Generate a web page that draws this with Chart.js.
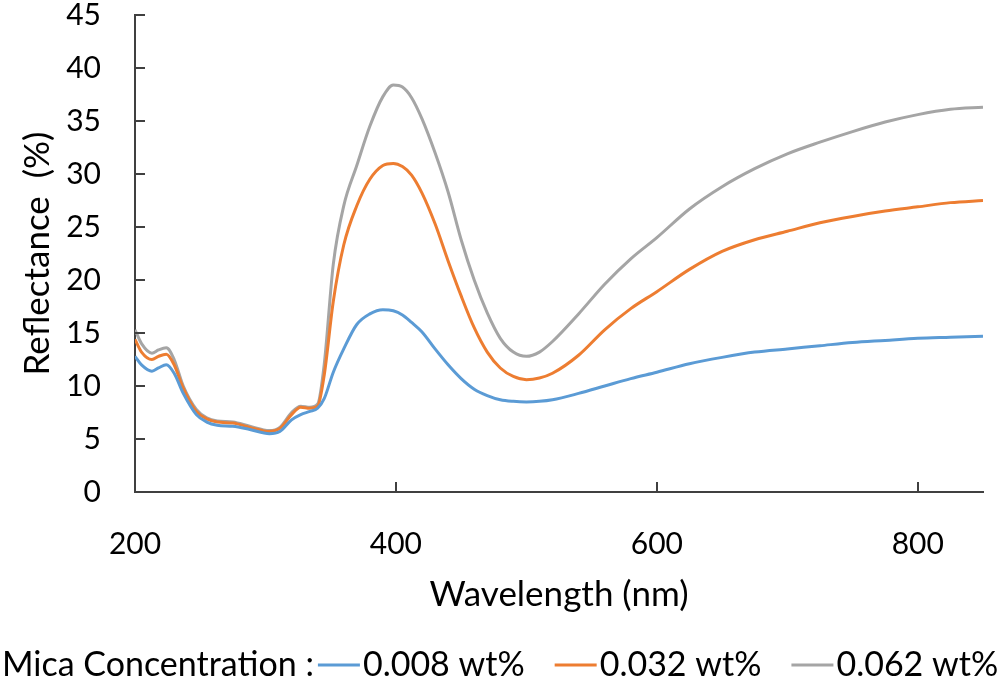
<!DOCTYPE html>
<html>
<head>
<meta charset="utf-8">
<script src="https://cdn.jsdelivr.net/npm/chart.js@4/dist/chart.umd.min.js"></script>
<style>
  html, body { margin: 0; padding: 0; background: #fff; }
  #wrap { width: 999px; height: 683px; }
</style>
</head>
<body>
<div id="wrap"><canvas id="chart" width="999" height="683"></canvas></div>
<script>
// wavelength (nm)
const wavelengths = [200,205,213,218,224,230,237,247,255,263,275,288,303,311,320,327,334,340,345,352,360,370,380,390,398,405,412,420,430,440,450,460,470,480,490,500,510,520,540,560,580,600,625,650,675,700,725,750,775,800,825,850];

// reflectance (%)
const mica008 = [12.8,12.0,11.4,11.7,12.0,11.2,9.3,7.3,6.6,6.3,6.2,5.9,5.5,5.7,6.8,7.3,7.6,7.9,8.8,11.3,13.5,15.8,16.8,17.2,17.1,16.7,16.0,15.1,13.5,12.0,10.7,9.7,9.1,8.7,8.55,8.5,8.55,8.7,9.3,10.0,10.7,11.3,12.1,12.7,13.2,13.5,13.8,14.1,14.3,14.5,14.6,14.7];
const mica032 = [14.4,13.2,12.5,12.8,13.0,12.0,9.8,7.6,6.9,6.6,6.5,6.1,5.7,6.0,7.3,8.0,7.9,8.1,11.0,18.0,23.3,27.0,29.5,30.8,31.0,30.7,29.9,28.2,25.3,21.8,18.5,15.5,13.2,11.7,10.9,10.6,10.75,11.2,12.9,15.3,17.3,18.9,21.0,22.7,23.8,24.6,25.4,26.0,26.5,26.9,27.3,27.5];
const mica062 = [15.3,14.0,13.1,13.4,13.6,12.5,10.0,7.8,7.0,6.7,6.6,6.2,5.8,6.1,7.5,8.1,8.0,8.3,12.0,21.5,27.0,30.8,34.5,37.3,38.4,38.2,37.2,35.2,32.0,28.3,23.8,20.0,16.9,14.5,13.2,12.8,13.2,14.2,16.8,19.6,22.0,24.0,26.7,28.8,30.5,31.9,33.0,34.0,34.9,35.6,36.1,36.3];

const seriesLabels = ["0.008 wt%", "0.032 wt%", "0.062 wt%"];
const legendTitle = "Mica Concentration :";
const xTicks = [200, 400, 600, 800];

const colors = ["#5B9BD5", "#ED7D31", "#A5A5A5"];
const FONT = "Lato, 'Open Sans', sans-serif";
const AXIS = "#404040";

function pts(ys){
    return wavelengths.map((x,i)=>({x:x, y:ys[i]}));
}

// short tick marks pointing into the plot area
const innerTicks = {
    id: "innerTicks",
    afterDraw(c){
        let ctx = c.ctx, a = c.chartArea;
        ctx.save();
        ctx.strokeStyle = AXIS;
        ctx.lineWidth = 2;
        c.scales.x.ticks.forEach(t=>{
            let px = Math.round(c.scales.x.getPixelForValue(t.value));
            ctx.beginPath(); ctx.moveTo(px, a.bottom); ctx.lineTo(px, a.bottom - 10); ctx.stroke();
        });
        c.scales.y.ticks.forEach(t=>{
            let py = Math.round(c.scales.y.getPixelForValue(t.value));
            ctx.beginPath(); ctx.moveTo(a.left, py); ctx.lineTo(a.left + 10, py); ctx.stroke();
        });
        ctx.restore();
    }
};

// single-row legend with a leading caption
const rowLegend = {
    id: "rowLegend",
    afterDraw(c){
        let ctx = c.ctx;
        let y = 665;
        ctx.save();
        ctx.font = "34px " + FONT;
        ctx.fillStyle = "#000";
        ctx.textBaseline = "middle";
        let x = 2;
        ctx.fillText(legendTitle, x, y);
        x += ctx.measureText(legendTitle).width + 4;
        c.data.datasets.forEach(ds=>{
            ctx.strokeStyle = ds.borderColor;
            ctx.lineWidth = 3;
            ctx.beginPath(); ctx.moveTo(x, y); ctx.lineTo(x + 42, y); ctx.stroke();
            x += 45;
            ctx.fillText(ds.label, x, y);
            x += ctx.measureText(ds.label).width + 30;
        });
        ctx.restore();
    }
};

const allSeries = [mica008, mica032, mica062];

new Chart(document.getElementById("chart"), {
    type: "line",
    data: {
        datasets: allSeries.map((s,i)=>({
            label: seriesLabels[i],
            data: pts(s),
            borderColor: colors[i],
            borderWidth: 3,
            pointRadius: 0,
            cubicInterpolationMode: "monotone",
            fill: false
        }))
    },
    options: {
        responsive: false,
        animation: false,
        layout: { padding: { top: 15, right: 16, left: 0, bottom: 0 } },
        plugins: {
            legend: { display: false },
            tooltip: { enabled: false }
        },
        scales: {
            x: {
                type: "linear",
                min: 200,
                max: 850,
                grid: { display: false, drawTicks: false },
                border: { display: true, color: AXIS, width: 2 },
                ticks: {
                    padding: 34,
                    color: "#000",
                    font: { family: FONT, size: 30 },
                    maxRotation: 0
                },
                afterBuildTicks(s){ s.ticks = xTicks.map(v=>({value: v})); },
                title: {
                    display: true,
                    text: "Wavelength (nm)",
                    color: "#000",
                    font: { family: FONT, size: 35 },
                    padding: { top: 0, bottom: 67 }
                },
                afterFit(s){
                    s.height = 191;
                    s.paddingLeft = 0;
                    s.paddingRight = 0;
                }
            },
            y: {
                min: 0,
                max: 45,
                grid: { display: false, drawTicks: false },
                border: { display: true, color: AXIS, width: 2 },
                ticks: {
                    stepSize: 5,
                    padding: 34,
                    color: "#000",
                    font: { family: FONT, size: 30 }
                },
                title: {
                    display: true,
                    text: "Reflectance  (%)",
                    color: "#000",
                    font: { family: FONT, size: 35 },
                    padding: { top: 17, bottom: 0 }
                },
                afterFit(s){
                    s.width = 135;
                    s.paddingTop = 0;
                    s.paddingBottom = 0;
                }
            }
        }
    },
    plugins: [innerTicks, rowLegend]
});
</script>
</body>
</html>
